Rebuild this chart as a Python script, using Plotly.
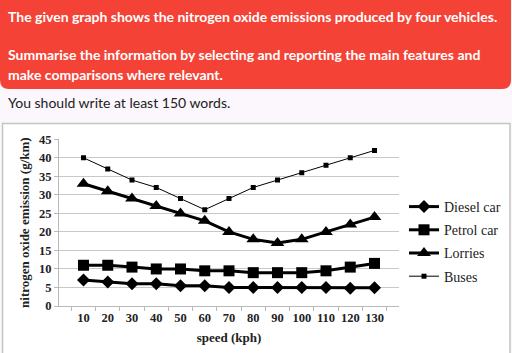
import plotly.graph_objects as go

W, H = 512, 353

speeds = ["10", "20", "30", "40", "50", "60", "70", "80", "90", "100", "110", "120", "130"]
diesel = [7, 6.5, 6, 6, 5.5, 5.5, 5, 5, 5, 5, 5, 4.8, 4.9]
petrol = [11, 11, 10.5, 10, 10, 9.5, 9.5, 9, 9, 9, 9.5, 10.5, 11.5]
lorries = [33, 31, 29, 27, 25, 23, 20, 18, 17, 18, 20, 22, 24]
buses = [40, 37, 34, 32, 29, 26, 29, 32, 34, 36, 38, 40, 42]
y_ticks = [0, 5, 10, 15, 20, 25, 30, 35, 40, 45]

header1 = "The given graph shows the nitrogen oxide emissions produced by four vehicles."
header2 = "Summarise the information by selecting and reporting the main features and"
header3 = "make comparisons where relevant."
subtext = "You should write at least 150 words."


def px(x):
    return x / W


def py(y):
    return 1 - y / H


SERIF = "Liberation Serif"

fig = go.Figure()
fig.add_trace(go.Scatter(x=speeds, y=diesel, name="Diesel car", mode="lines+markers",
                         legendgroup="d",
                         line=dict(color="black", width=3),
                         marker=dict(symbol="diamond", size=10, color="black")))
fig.add_trace(go.Scatter(x=speeds, y=petrol, name="Petrol car", mode="lines+markers",
                         legendgroup="p",
                         line=dict(color="black", width=3),
                         marker=dict(symbol="square", size=11, color="black")))
fig.add_trace(go.Scatter(x=speeds, y=lorries, name="Lorries", mode="lines+markers",
                         legendgroup="l",
                         line=dict(color="black", width=3),
                         marker=dict(symbol="triangle-up", size=12, color="black")))
fig.add_trace(go.Scatter(x=speeds, y=buses, name="Buses", mode="lines+markers",
                         legendgroup="b",
                         line=dict(color="black", width=1),
                         marker=dict(symbol="square", size=5, color="black")))

# red header box with rounded bottom corners
r = 9
x0, x1, y0, y1 = 0, 511, -10, 89
path = (f"M {px(x0)},{py(y0)} L {px(x1)},{py(y0)} L {px(x1)},{py(y1 - r)} "
        f"Q {px(x1)},{py(y1)} {px(x1 - r)},{py(y1)} L {px(x0 + r)},{py(y1)} "
        f"Q {px(x0)},{py(y1)} {px(x0)},{py(y1 - r)} Z")

shapes = [
    dict(type="path", path=path, xref="paper", yref="paper",
         fillcolor="#f44336", line=dict(width=0), layer="below"),
    dict(type="rect", xref="paper", yref="paper",
         x0=px(2.5), x1=px(510), y0=py(123.5), y1=py(360),
         fillcolor="white", line=dict(color="#c4c4c4", width=1.5), layer="below"),
]

hfont = dict(family="Lato", size=14, color="white", weight="bold")
annotations = [
    dict(text=header1, x=px(6), y=py(16), xref="paper", yref="paper", xanchor="left",
         yanchor="middle", showarrow=False, font=hfont),
    dict(text=header2, x=px(6), y=py(55), xref="paper", yref="paper", xanchor="left",
         yanchor="middle", showarrow=False, font=hfont),
    dict(text=header3, x=px(6), y=py(74), xref="paper", yref="paper", xanchor="left",
         yanchor="middle", showarrow=False, font=hfont),
    dict(text=subtext, x=px(6), y=py(103), xref="paper", yref="paper", xanchor="left",
         yanchor="middle", showarrow=False, font=dict(family="Lato", size=14, color="#222222")),
]

tickfont = dict(family=SERIF, size=12.5, color="#222222", weight="bold")
titlefont = dict(family=SERIF, size=13, color="#222222", weight="bold")

fig.update_layout(
    width=W, height=H,
    margin=dict(l=0, r=0, t=0, b=0, autoexpand=False),
    paper_bgcolor="#fcf6fd",
    plot_bgcolor="white",
    shapes=shapes,
    annotations=annotations,
    showlegend=True,
    legend=dict(x=px(404), y=py(191), xanchor="left", yanchor="top",
                font=dict(family=SERIF, size=14, color="#222222"),
                bgcolor="rgba(0,0,0,0)", tracegroupgap=2, itemwidth=30),
    xaxis=dict(domain=[px(59), px(399)], type="category", automargin=False,
               showgrid=False, showline=True, linecolor="#b8b8b8", linewidth=1,
               ticks="outside", tickson="boundaries", ticklen=4, tickcolor="#b8b8b8",
               tickangle=0, tickfont=tickfont,
               title=dict(text="speed (kph)", standoff=8, font=titlefont),
               fixedrange=True),
    yaxis=dict(domain=[py(306), py(139.3)], range=[0, 45], tickvals=y_ticks, automargin=False,
               showgrid=True, gridcolor="#c8c8c8", gridwidth=1,
               showline=True, linecolor="#b8b8b8", linewidth=1,
               ticks="outside", ticklen=4, tickcolor="#b8b8b8", zeroline=False,
               tickfont=tickfont,
               title=dict(text="nitrogen oxide emission (g/km)", standoff=6, font=titlefont),
               fixedrange=True),
)

fig.write_html("out.html")
